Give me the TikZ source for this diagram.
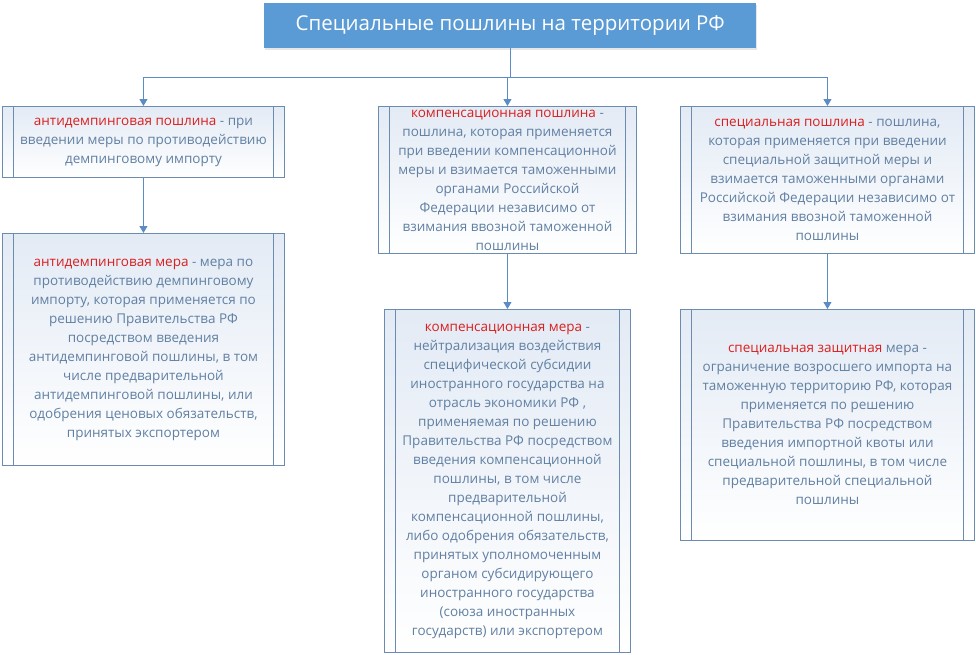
\documentclass[tikz,border=0pt]{standalone}
\usepackage{fontspec}
\setmainfont{Open Sans}
\usepackage{tikz}
\usetikzlibrary{arrows.meta}
\usetikzlibrary{positioning}
\usetikzlibrary{shadows}
\definecolor{tblue}{rgb}{0.357, 0.608, 0.835}
\definecolor{lblue}{rgb}{0.36, 0.55, 0.77}
\definecolor{bline}{rgb}{0.42, 0.55, 0.69}
\definecolor{btext}{rgb}{0.38, 0.50, 0.64}
\definecolor{tred}{rgb}{0.86, 0.12, 0.12}
\definecolor{bshade}{rgb}{0.89, 0.92, 0.96}
\newcommand{\term}[1]{\textcolor{tred}{#1}}
\tikzset{duty/.style = {draw=bline, line width=0.9pt, anchor=north west,
                        top color=bshade, bottom color=white,
                        align=center, inner sep=0pt, text=btext,
                        font=\fontsize{13.5}{19}\selectfont,
                        path picture={
                          \draw [bline, line width=0.9pt]
                            ([xshift=11pt]path picture bounding box.north west) --
                            ([xshift=11pt]path picture bounding box.south west);
                          \draw [bline, line width=0.9pt]
                            ([xshift=-11pt]path picture bounding box.north east) --
                            ([xshift=-11pt]path picture bounding box.south east);}}}
\tikzset{link/.style = {lblue, line width=0.9pt,
                        -{Triangle[width=8pt, length=7pt]}}}

\begin{document}
\begin{tikzpicture}[x=1pt, y=-1pt]
    \useasboundingbox (0, 0) rectangle (976, 654);

    \node [anchor=north west, fill=tblue, text=white, minimum width=492pt,
           minimum height=45pt, inner sep=0pt, font=\fontsize{20.5}{25}\selectfont,
           drop shadow={opacity=0.2, shadow xshift=1pt, shadow yshift=-2pt}]
          (title) at (264, 3) {Специальные пошлины на территории РФ};

    \node [duty, minimum width=282pt, minimum height=71pt] (anti1) at (2, 106)
          {\term{антидемпинговая пошлина} - при\\ введении меры по противодействию\\
           демпинговому импорту};
    \node [duty, minimum width=282pt, minimum height=232pt] (anti2) at (2, 233)
          {\term{антидемпинговая мера} - мера по\\ противодействию демпинговому\\
           импорту, которая применяется по\\ решению Правительства РФ\\
           посредством введения\\ антидемпинговой пошлины, в том\\
           числе предварительной\\ антидемпинговой пошлины, или\\
           одобрения ценовых обязательств,\\ принятых экспортером};

    \node [duty, minimum width=258pt, minimum height=147pt] (comp1) at (378, 106)
          {\term{компенсационная пошлина} -\\ пошлина, которая применяется\\
           при введении компенсационной\\ меры и взимается таможенными\\
           органами Российской\\ Федерации независимо от\\
           взимания ввозной таможенной\\ пошлины};
    \node [duty, minimum width=246pt, minimum height=343pt] (comp2) at (384, 309)
          {\term{компенсационная мера} -\\ нейтрализация воздействия\\
           специфической субсидии\\ иностранного государства на\\
           отрасль экономики РФ ,\\ применяемая по решению\\
           Правительства РФ посредством\\ введения компенсационной\\
           пошлины, в том числе\\ предварительной\\
           компенсационной пошлины,\\ либо одобрения обязательств,\\
           принятых уполномоченным\\ органом субсидирующего\\
           иностранного государства\\ (союза иностранных\\
           государств) или экспортером};

    \node [duty, minimum width=294pt, minimum height=147pt] (spec1) at (680, 106)
          {\term{специальная пошлина} - пошлина,\\ которая применяется при введении\\
           специальной защитной меры и\\ взимается таможенными органами\\
           Российской Федерации независимо от\\ взимания ввозной таможенной\\
           пошлины};
    \node [duty, minimum width=294pt, minimum height=231pt] (spec2) at (680, 309)
          {\term{специальная защитная} мера -\\ ограничение возросшего импорта на\\
           таможенную территорию РФ, которая\\ применяется по решению\\
           Правительства РФ посредством\\ введения импортной квоты или\\
           специальной пошлины, в том числе\\ предварительной специальной\\
           пошлины};

    \coordinate (split) at ([yshift=-29pt]title.south);
    \draw [lblue, line width=0.9pt] (title.south) -- (split);
    \draw [link] (split) -| (anti1.north);
    \draw [link] (split) -| (spec1.north);
    \draw [link] (comp1.north |- split) -- (comp1.north);

    \draw [link] (anti1) -- (anti2);
    \draw [link] (comp1.south -| comp2.north) -- (comp2.north);
    \draw [link] (spec1) -- (spec2);
  \end{tikzpicture}
\end{document}
